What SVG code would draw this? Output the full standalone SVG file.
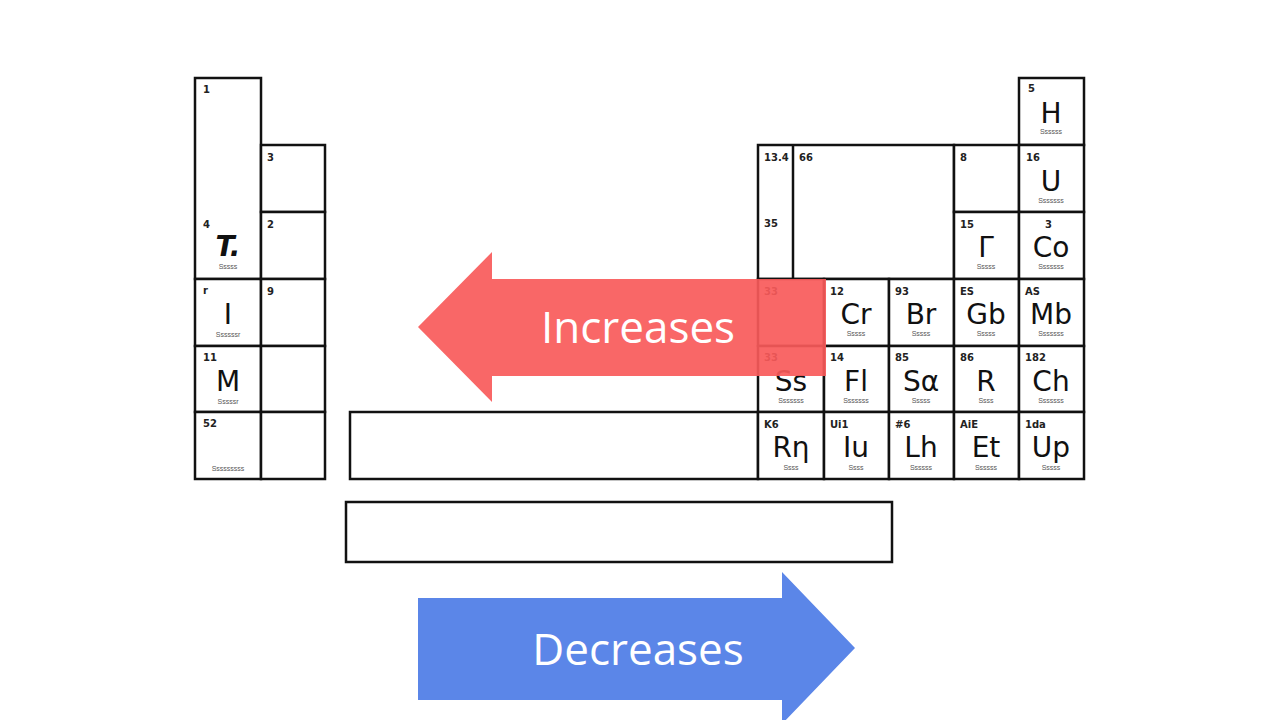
<svg xmlns="http://www.w3.org/2000/svg" width="1280" height="720" viewBox="0 0 1280 720">
<style>
.c{fill:#fff;stroke:#111;stroke-width:2.5}
.n{font-family:"DejaVu Sans",sans-serif;font-size:10px;font-weight:bold;fill:#222}
.s{font-family:"DejaVu Sans",sans-serif;font-size:28px;fill:#111;text-anchor:middle}
.m{font-family:"Liberation Sans",sans-serif;font-size:7px;fill:#555;text-anchor:middle}
.a{font-family:"Open Sans",sans-serif;font-size:44px;fill:#fff;text-anchor:middle}
</style>
<rect width="1280" height="720" fill="#fff"/>
<g id="left">
<rect class="c" x="195" y="78" width="66" height="201"/><text class="n" x="203" y="93">1</text><text class="n" x="203" y="228">4</text><text class="s" x="228" y="256" font-style="italic" font-weight="bold">T.</text><text class="m" x="228" y="269">Sssss</text>
<rect class="c" x="195" y="279" width="66" height="67"/><text class="n" x="203" y="294">r</text><text class="s" x="228" y="324">I</text><text class="m" x="228" y="337">Ssssssr</text>
<rect class="c" x="195" y="346" width="66" height="66"/><text class="n" x="203" y="361">11</text><text class="s" x="228" y="391">M</text><text class="m" x="228" y="404">Sssssr</text>
<rect class="c" x="195" y="412" width="66" height="67"/><text class="n" x="203" y="427">52</text><text class="m" x="228" y="471">Sssssssss</text>
<rect class="c" x="261" y="145" width="64" height="67"/><text class="n" x="267" y="161">3</text>
<rect class="c" x="261" y="212" width="64" height="67"/><text class="n" x="267" y="228">2</text>
<rect class="c" x="261" y="279" width="64" height="67"/><text class="n" x="267" y="295">9</text>
<rect class="c" x="261" y="346" width="64" height="66"/>
<rect class="c" x="261" y="412" width="64" height="67"/>
</g>
<g id="bars">
<rect class="c" x="350" y="412" width="408" height="67"/>
<rect class="c" x="346" y="502" width="546" height="60"/>
</g>
<g id="right">
<rect class="c" x="1019" y="78" width="65" height="67"/><text class="n" x="1028" y="92">5</text><text class="s" x="1051" y="123">H</text><text class="m" x="1051" y="134">Ssssss</text>
<rect class="c" x="758" y="145" width="196" height="134"/><line x1="793" y1="145" x2="793" y2="279" stroke="#111" stroke-width="2.5"/>
<text class="n" x="764" y="161">13.4</text><text class="n" x="799" y="161">66</text><text class="n" x="764" y="227">35</text>
<rect class="c" x="954" y="145" width="65" height="67"/><text class="n" x="960" y="161">8</text>
<rect class="c" x="1019" y="145" width="65" height="67"/><text class="n" x="1026" y="161">16</text><text class="s" x="1051" y="191">U</text><text class="m" x="1051" y="203">Sssssss</text>
<rect class="c" x="954" y="212" width="65" height="67"/><text class="n" x="960" y="228">15</text><text class="s" x="986" y="257">Γ</text><text class="m" x="986" y="269">Sssss</text>
<rect class="c" x="1019" y="212" width="65" height="67"/><text class="n" x="1045" y="228">3</text><text class="s" x="1051" y="257">Co</text><text class="m" x="1051" y="269">Sssssss</text>
<g id="r4">
<rect class="c" x="758" y="279" width="66" height="67"/><text class="n" x="764" y="295">33</text>
<rect class="c" x="824" y="279" width="65" height="67"/><text class="n" x="830" y="295">12</text><text class="s" x="856" y="324">Cr</text><text class="m" x="856" y="336">Sssss</text>
<rect class="c" x="889" y="279" width="65" height="67"/><text class="n" x="895" y="295">93</text><text class="s" x="921" y="324">Br</text><text class="m" x="921" y="336">Sssss</text>
<rect class="c" x="954" y="279" width="65" height="67"/><text class="n" x="960" y="295">ES</text><text class="s" x="986" y="324">Gb</text><text class="m" x="986" y="336">Sssss</text>
<rect class="c" x="1019" y="279" width="65" height="67"/><text class="n" x="1025" y="295">AS</text><text class="s" x="1051" y="324">Mb</text><text class="m" x="1051" y="336">Sssssss</text>
</g>
<g id="r5">
<rect class="c" x="758" y="346" width="66" height="66"/><text class="n" x="764" y="361">33</text><text class="s" x="791" y="391">Ss</text><text class="m" x="791" y="403">Sssssss</text>
<rect class="c" x="824" y="346" width="65" height="66"/><text class="n" x="830" y="361">14</text><text class="s" x="856" y="391">Fl</text><text class="m" x="856" y="403">Sssssss</text>
<rect class="c" x="889" y="346" width="65" height="66"/><text class="n" x="895" y="361">85</text><text class="s" x="921" y="391">Sα</text><text class="m" x="921" y="403">Sssss</text>
<rect class="c" x="954" y="346" width="65" height="66"/><text class="n" x="960" y="361">86</text><text class="s" x="986" y="391">R</text><text class="m" x="986" y="403">Ssss</text>
<rect class="c" x="1019" y="346" width="65" height="66"/><text class="n" x="1025" y="361">182</text><text class="s" x="1051" y="391">Ch</text><text class="m" x="1051" y="403">Sssssss</text>
</g>
<g id="r6">
<rect class="c" x="758" y="412" width="66" height="67"/><text class="n" x="764" y="428">K6</text><text class="s" x="791" y="457">Rη</text><text class="m" x="791" y="470">Ssss</text>
<rect class="c" x="824" y="412" width="65" height="67"/><text class="n" x="830" y="428">Ui1</text><text class="s" x="856" y="457">Iu</text><text class="m" x="856" y="470">Ssss</text>
<rect class="c" x="889" y="412" width="65" height="67"/><text class="n" x="895" y="428">#6</text><text class="s" x="921" y="457">Lh</text><text class="m" x="921" y="470">Ssssss</text>
<rect class="c" x="954" y="412" width="65" height="67"/><text class="n" x="960" y="428">AiE</text><text class="s" x="986" y="457">Et</text><text class="m" x="986" y="470">Ssssss</text>
<rect class="c" x="1019" y="412" width="65" height="67"/><text class="n" x="1025" y="428">1da</text><text class="s" x="1051" y="457">Up</text><text class="m" x="1051" y="470">Sssss</text>
</g>
</g>
<g id="arrows">
<polygon points="418,327 492,252 492,279 826,279 826,376 492,376 492,402" fill="#f85a5a" fill-opacity="0.92"/>
<text class="a" x="638" y="343">Increases</text>
<polygon points="418,598 782,598 782,572 855,648 782,724 782,700 418,700" fill="#5b86e8"/>
<text class="a" x="638" y="665">Decreases</text>
</g>
</svg>
